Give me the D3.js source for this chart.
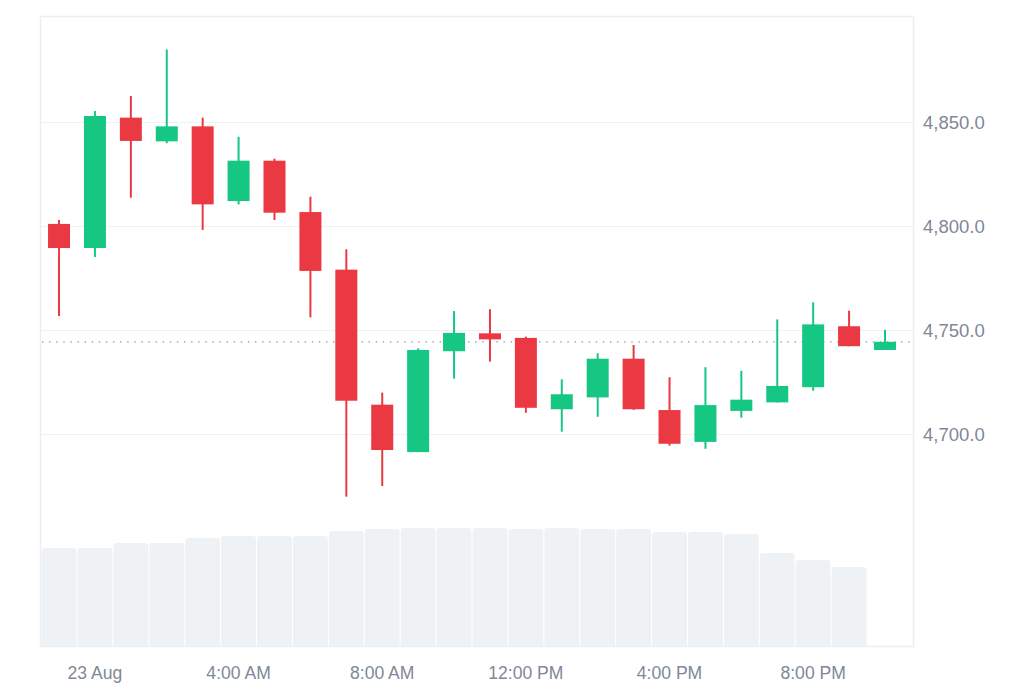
<!DOCTYPE html>
<html>
<head>
<meta charset="utf-8">
<script src="https://cdn.jsdelivr.net/npm/d3@7"></script>
<style>
  html, body { margin: 0; padding: 0; background: #ffffff; }
  svg { display: block; }
  text { font-family: "Liberation Sans", Arial, sans-serif; }
</style>
</head>
<body>
<svg id="chart" width="1024" height="683"></svg>
<script>
// ---- data (hourly candles, 22 Aug 23:00 -> 23 Aug 22:00) ----
const hoursFromStart = [0,1,2,3,4,5,6,7,8,9,10,11,12,13,14,15,16,17,18,19,20,21,22,23];
const open  = [4801.0,4789.4,4852.1,4840.7,4847.9,4812.0,4831.4,4806.7,4779.0,4714.1,4691.3,4739.8,4748.4,4746.2,4711.9,4717.6,4736.2,4711.5,4696.2,4711.1,4715.2,4722.5,4751.8,4740.4];
const high  = [4802.9,4855.3,4862.5,4884.9,4852.1,4842.9,4832.4,4814.1,4788.8,4719.9,4741.2,4759.1,4760.0,4746.8,4726.3,4738.8,4742.8,4727.3,4732.1,4730.4,4755.1,4763.3,4759.3,4750.1];
const low   = [4756.7,4785.1,4813.6,4839.8,4798.1,4810.4,4802.9,4756.1,4669.9,4675.0,4691.3,4726.6,4734.8,4710.2,4701.1,4708.3,4711.6,4694.4,4692.9,4707.8,4715.2,4720.8,4742.2,4740.4];
const close = [4789.4,4852.9,4840.9,4847.9,4810.4,4831.4,4806.4,4778.4,4716.0,4692.3,4740.4,4748.6,4745.5,4712.6,4719.1,4736.2,4711.9,4695.3,4713.9,4716.5,4723.1,4752.7,4742.2,4744.3];
// volume (relative units); last candle has no volume bar yet
const volume = [98,98,103,103,108,110,110,110,115,117,118,118,118,117,118,117,117,114,114,112,93,86,79];
const priceTicks = [4700, 4750, 4800, 4850];
const priceTickLabels = ["4,700.0", "4,750.0", "4,800.0", "4,850.0"];
const timeTickHours = [1, 5, 9, 13, 17, 21];
const timeTickLabels = ["23 Aug", "4:00 AM", "8:00 AM", "12:00 PM", "4:00 PM", "8:00 PM"];

const start = new Date(2023, 7, 22, 23, 0, 0);
const HOUR = 3600 * 1000;
const toDate = h => new Date(start.getTime() + h * HOUR);

const candles = hoursFromStart.map((h, i) => ({
  t: toDate(h), o: open[i], h: high[i], l: low[i], c: close[i], v: volume[i]
}));

// ---- layout ----
const pLeft = 40, pRight = 913, pTop = 16, pBottom = 646;
const svg = d3.select("#chart");

const x = d3.scaleTime()
  .domain([toDate(-0.53), toDate(23.78)])
  .range([pLeft, pRight]);
const y = d3.scaleLinear().domain([4700, 4850]).range([434, 122]);
const yVol = d3.scaleLinear().domain([0, 118]).range([pBottom, 528]);

const step = x(toDate(1)) - x(toDate(0));
const bodyW = 22;
const volW = step - 1;

const UP = "#16c784", DOWN = "#ea3943";

// frame
svg.append("rect")
  .attr("x", pLeft + 0.5).attr("y", pTop + 0.5)
  .attr("width", pRight - pLeft).attr("height", pBottom - pTop)
  .attr("fill", "none").attr("stroke", "#eceef1").attr("stroke-width", 1.5);

// gridlines
svg.append("g").selectAll("line").data(priceTicks).join("line")
  .attr("x1", pLeft).attr("x2", pRight)
  .attr("y1", d => Math.round(y(d)) + 0.5).attr("y2", d => Math.round(y(d)) + 0.5)
  .attr("stroke", "#eff1f4").attr("stroke-width", 1.2);

// volume bars
const volPath = (cx, topY, w, r) => {
  const x0 = cx - w / 2, x1 = cx + w / 2;
  return `M${x0},${pBottom}V${topY + r}Q${x0},${topY} ${x0 + r},${topY}H${x1 - r}Q${x1},${topY} ${x1},${topY + r}V${pBottom}Z`;
};
svg.append("g").selectAll("path").data(candles.filter(d => d.v != null)).join("path")
  .attr("d", d => volPath(x(d.t), yVol(d.v), volW, 3))
  .attr("fill", "#eff2f5");

// last price dotted line
const last = candles[candles.length - 1];
svg.append("line")
  .attr("x1", pLeft + 2).attr("x2", pRight)
  .attr("y1", y(last.c)).attr("y2", y(last.c))
  .attr("stroke", "#8e96a3").attr("stroke-width", 1.4)
  .attr("stroke-dasharray", "1.4 5.7");

// candles
const g = svg.append("g");
const cg = g.selectAll("g").data(candles).join("g");
cg.append("line")
  .attr("x1", d => x(d.t)).attr("x2", d => x(d.t))
  .attr("y1", d => y(d.h)).attr("y2", d => y(d.l))
  .attr("stroke", d => d.c >= d.o ? UP : DOWN).attr("stroke-width", 2);
cg.append("rect")
  .attr("x", d => x(d.t) - bodyW / 2)
  .attr("width", bodyW)
  .attr("y", d => y(Math.max(d.o, d.c)))
  .attr("height", d => Math.max(1, Math.abs(y(d.o) - y(d.c))))
  .attr("fill", d => d.c >= d.o ? UP : DOWN);

// price axis labels
svg.append("g").selectAll("text").data(priceTicks).join("text")
  .attr("x", 923).attr("y", d => y(d) + 6.6)
  .attr("fill", "#7f8898").attr("font-size", 18.5)
  .text((d, i) => priceTickLabels[i]);

// time axis labels
svg.append("g").selectAll("text").data(timeTickHours).join("text")
  .attr("transform", d => `translate(${x(toDate(d))},679) scale(0.95,1)`)
  .attr("text-anchor", "middle")
  .attr("fill", "#7f8898").attr("font-size", 18.5)
  .text((d, i) => timeTickLabels[i]);
</script>
</body>
</html>
